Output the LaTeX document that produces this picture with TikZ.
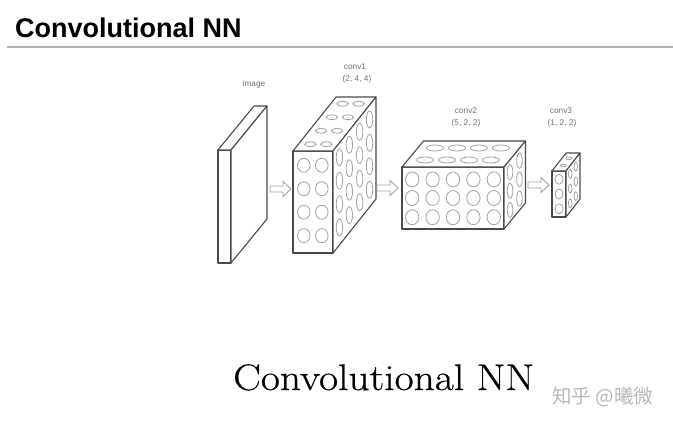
\documentclass[tikz,border=0pt]{standalone}
\usepackage{fontspec}
\newfontfamily\titlefont{Liberation Sans}
\newfontfamily\capfont[FakeBold=0.5]{Latin Modern Roman}
\newfontfamily\cjk{Noto Sans CJK SC}
\usetikzlibrary{calc}
\definecolor{edge}{HTML}{4A4A4A}
\definecolor{holec}{HTML}{A2A2A2}
\definecolor{arrowc}{HTML}{A4A4A4}
\definecolor{lbl}{HTML}{707070}
\definecolor{rulec}{HTML}{B4B4B4}
\begin{document}
\begin{tikzpicture}[x=1pt,y=-1pt,
  face/.style={fill=white, draw=edge, line width=1.1pt, line join=round},
  holes/.style={draw=holec, line width=0.8pt},
  lab/.style={font=\titlefont\fontsize{8.3}{10}\selectfont, text=lbl, inner sep=0pt},
  blockarrow/.style={draw=arrowc, line width=0.9pt, fill=white, line join=miter},
  barrow/.pic={\draw[blockarrow] (0,-3) -- (13,-3) -- (13,-7.5) -- (21,0) -- (13,7.5) -- (13,3) -- (0,3) -- cycle;}]
\useasboundingbox (0,0) rectangle (673,426);

% title and rule
\node[anchor=base west, font=\titlefont\bfseries\fontsize{27}{30}\selectfont, inner sep=0pt] (title) at (15,37) {Convolutional NN};
\draw[rulec, line width=1.4pt] (7,47) -- (673,47);

% image slab
\begin{scope}[shift={(218,150)}, x={(13pt,0pt)}, y={(0pt,-113pt)}, z={(36pt,44pt)}]
  \filldraw[face] (0,0,0) rectangle (1,1,0);
  \filldraw[face] (0,0,0) -- (0,0,1) -- (1,0,1) -- (1,0,0) -- cycle;
  \filldraw[face] (1,0,0) -- (1,0,1) -- (1,1,1) -- (1,1,0) -- cycle;
  \coordinate (img) at (1,0.5,0.5);
\end{scope}

% conv1
\begin{scope}[shift={(293,151)}, x={(40pt,0pt)}, y={(0pt,-102pt)}, z={(43pt,54pt)}]
  \filldraw[face] (0,0,0) rectangle (1,1,0);
  \filldraw[face] (0,0,0) -- (0,0,1) -- (1,0,1) -- (1,0,0) -- cycle;
  \filldraw[face] (1,0,0) -- (1,0,1) -- (1,1,1) -- (1,1,0) -- cycle;
  \foreach \u in {0.27,0.72} \foreach \w in {0.14,0.37,0.6,0.83}
    \draw[holes] (\u,\w,0) ellipse[x radius=6.3pt, y radius=7pt];
  \foreach \u in {0.3,0.7} \foreach \v in {0.125,0.375,0.625,0.875}
    \draw[holes] (\u,0,\v) ellipse[x radius=5.6pt, y radius=2.5pt];
  \foreach \w in {0.14,0.37,0.6,0.83} \foreach \v in {0.15,0.38,0.62,0.85}
    \draw[holes] (1,\w,\v) ellipse[x radius=3.2pt, y radius=8.5pt];
  \coordinate (c1) at (0,0.5,0);
\end{scope}

% conv2
\begin{scope}[shift={(402,167)}, x={(102pt,0pt)}, y={(0pt,-62pt)}, z={(21.5pt,26pt)}]
  \filldraw[face] (0,0,0) rectangle (1,1,0);
  \filldraw[face] (0,0,0) -- (0,0,1) -- (1,0,1) -- (1,0,0) -- cycle;
  \filldraw[face] (1,0,0) -- (1,0,1) -- (1,1,1) -- (1,1,0) -- cycle;
  \foreach \u in {0.1,0.3,0.5,0.7,0.9} \foreach \w in {0.2,0.5,0.81}
    \draw[holes] (\u,\w,0) ellipse[x radius=6.7pt, y radius=7.5pt];
  \foreach \u in {0.17,0.385,0.6,0.815} \foreach \v in {0.27,0.73}
    \draw[holes] (\u,0,\v) ellipse[x radius=8.5pt, y radius=3pt];
  \foreach \w in {0.2,0.5,0.81} \foreach \v in {0.28,0.72}
    \draw[holes] (1,\w,\v) ellipse[x radius=2.8pt, y radius=7.5pt];
  \coordinate (c2) at (0,0.5,0);
\end{scope}

% conv3
\begin{scope}[shift={(552,171)}, x={(14pt,0pt)}, y={(0pt,-46pt)}, z={(14pt,18pt)}]
  \filldraw[face] (0,0,0) rectangle (1,1,0);
  \filldraw[face] (0,0,0) -- (0,0,1) -- (1,0,1) -- (1,0,0) -- cycle;
  \filldraw[face] (1,0,0) -- (1,0,1) -- (1,1,1) -- (1,1,0) -- cycle;
  \foreach \w in {0.18,0.5,0.82}
    \draw[holes] (0.5,\w,0) ellipse[x radius=4pt, y radius=5pt];
  \foreach \v in {0.3,0.7}
    \draw[holes] (0.5,0,\v) ellipse[x radius=3pt, y radius=1.3pt];
  \foreach \w in {0.18,0.5,0.82} \foreach \v in {0.3,0.7}
    \draw[holes] (1,\w,\v) ellipse[x radius=1.8pt, y radius=4.5pt];
  \coordinate (c3) at (0,0.5,0);
\end{scope}

% block arrows
\pic (a1) at (270,189) {barrow};
\pic (a2) at (377,188) {barrow};
\pic (a3) at (528,185) {barrow};

% labels
\node[lab] (limg) at (254,84) {image};
\node[lab] (l1a) at (355,67) {conv1};
\node[lab] (l1b) at (357,79) {(2, 4, 4)};
\node[lab] (l2a) at (466,111) {conv2};
\node[lab] (l2b) at (466,123) {(5, 2, 2)};
\node[lab] (l3a) at (561,111) {conv3};
\node[lab] (l3b) at (562,123) {(1, 2, 2)};

% caption and watermark
\node[anchor=base west, font=\capfont\fontsize{37}{40}\selectfont, inner sep=0pt, xscale=1.12, transform shape] (cap) at (233,390) {Convolutional NN};
\node[anchor=west, font=\cjk\fontsize{19.5}{22}\selectfont, text=black!28, inner sep=0pt] (wm) at (552,397) {知乎 @曦微};
\end{tikzpicture}
\end{document}
